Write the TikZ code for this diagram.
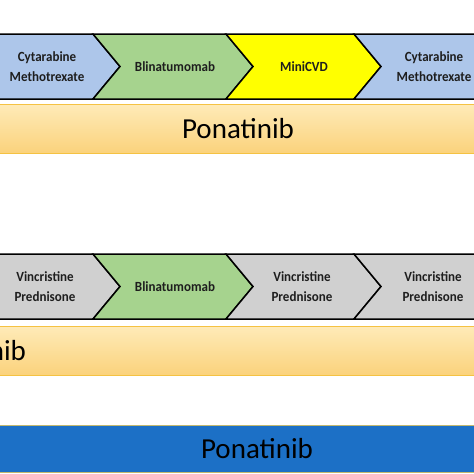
\documentclass[tikz,border=0pt]{standalone}
\usepackage{fontspec}
\setmainfont{Carlito}
\newfontfamily\chevfont[FakeStretch=0.93]{Carlito}
\definecolor{cblue}{HTML}{ADC6EA}
\definecolor{cgreen}{HTML}{A6D38E}
\definecolor{cyel}{HTML}{FFFF00}
\definecolor{cgray}{HTML}{D0D0D0}
\definecolor{otop}{HTML}{FEEBB8}
\definecolor{obot}{HTML}{FBD27C}
\definecolor{oline}{HTML}{F5C242}
\definecolor{bband}{HTML}{1C70C6}
\definecolor{bline}{HTML}{C2B870}
\definecolor{ctext}{HTML}{1E1E1E}
\tikzset{
  chevtext/.style={font=\chevfont\bfseries\fontsize{14}{20}\selectfont, align=center, text=ctext, inner sep=0pt},
  bigtext/.style={font=\fontsize{29}{30}\selectfont, inner sep=0pt, anchor=base, text=black},
  chevbox/.style={draw=black, line width=1.5pt, line join=miter},
  oband/.style={top color=otop, bottom color=obot},
}
\newcommand\mychev[5]{%
  \filldraw[chevbox, fill=#5] (#1,#3) -- (#2,#3) -- ({#2+27},{(#3+#4)/2}) -- (#2,#4) -- (#1,#4) -- ({#1+27},{(#3+#4)/2}) -- cycle;}
\begin{document}
\begin{tikzpicture}[x=1pt,y=-1pt]
\useasboundingbox (0,0) rectangle (474,474);
\clip (0,0) rectangle (474,474);
\fill[white] (0,0) rectangle (474,474);
% top row
\mychev{-30}{93}{34}{99}{cblue}
\mychev{93}{226}{34}{99}{cgreen}
\mychev{226}{354}{34}{99}{cyel}
\mychev{354}{520}{34}{99}{cblue}
\node[chevtext] (a1) at (47,67) {Cytarabine\\Methotrexate};
\node[chevtext] (a2) at (175,67) {Blinatumomab};
\node[chevtext] (a3) at (304,67) {MiniCVD};
\node[chevtext] (a4) at (434,67) {Cytarabine\\Methotrexate};
% orange band 1
\shade[oband] (-5,104) rectangle (480,153);
\draw[oline, line width=1pt] (-5,104) -- (480,104) (-5,153) -- (480,153);
\node[bigtext] (p1) at (238,138) {Ponatinib};
% second row
\mychev{-30}{93}{254}{319}{cgray}
\mychev{93}{226}{254}{319}{cgreen}
\mychev{226}{354}{254}{319}{cgray}
\mychev{354}{520}{254}{319}{cgray}
\node[chevtext] (b1) at (45,287) {Vincristine\\Prednisone};
\node[chevtext] (b2) at (175,287) {Blinatumomab};
\node[chevtext] (b3) at (302,287) {Vincristine\\Prednisone};
\node[chevtext] (b4) at (433,287) {Vincristine\\Prednisone};
% orange band 2
\shade[oband] (-5,326) rectangle (480,375);
\draw[oline, line width=1pt] (-5,326) -- (480,326) (-5,375) -- (480,375);
\node[bigtext] (p2) at (-30,360) {Ponatinib};
% blue band
\fill[bband] (-5,425) rectangle (480,472);
\draw[bline, line width=1pt] (-5,425) -- (480,425) (-5,472) -- (480,472);
\node[bigtext] (p3) at (257,458) {Ponatinib};
\end{tikzpicture}
\end{document}
